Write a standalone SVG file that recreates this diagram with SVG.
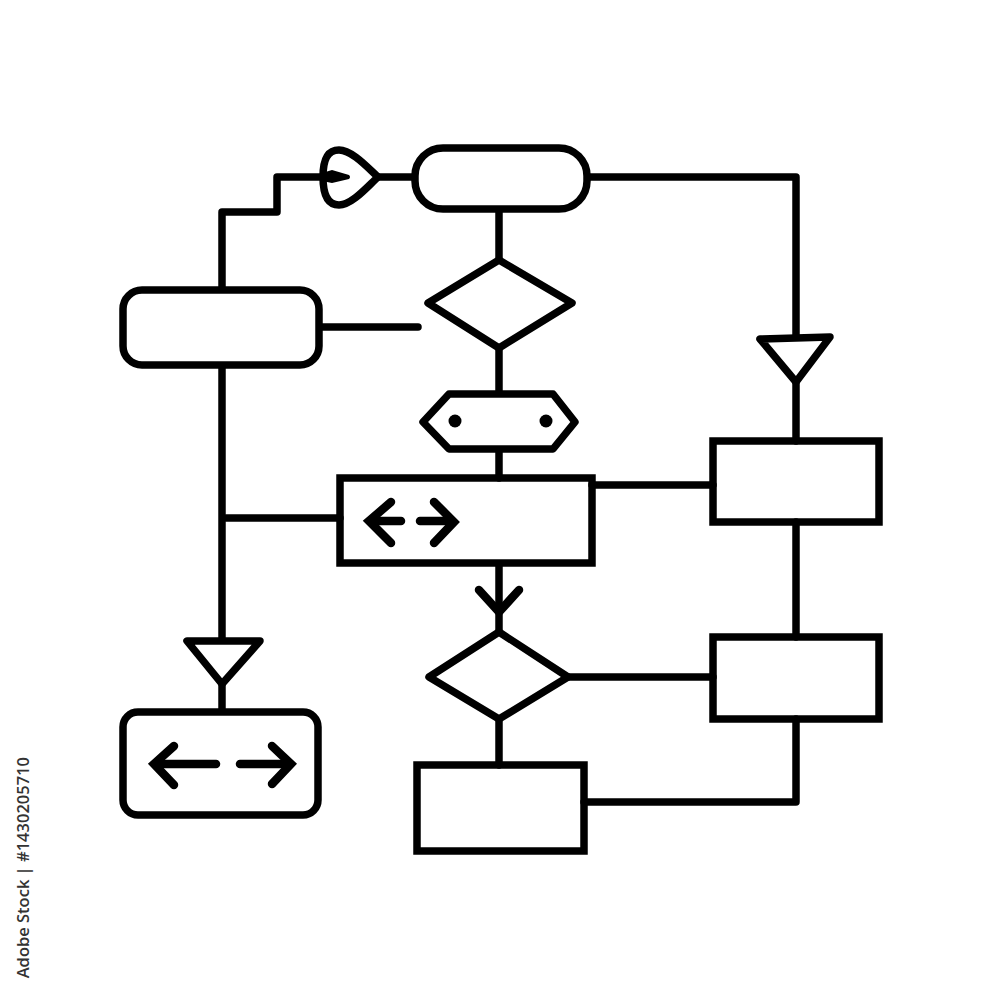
<svg xmlns="http://www.w3.org/2000/svg" width="1000" height="1000" viewBox="0 0 1000 1000">
<style>
.s{fill:none;stroke:#000;stroke-width:7.500;stroke-linejoin:round;stroke-linecap:round}
.w{fill:#fff;stroke:#000;stroke-width:7.500;stroke-linejoin:round;stroke-linecap:round}
.m{fill:none;stroke:#000;stroke-width:7.500;stroke-linejoin:miter;stroke-linecap:butt}
.a{fill:none;stroke:#000;stroke-width:8.500;stroke-linejoin:miter;stroke-linecap:round}
.l{font-family:"Open Sans","Liberation Sans",sans-serif;font-size:16.500px;font-weight:600;fill:#333;text-anchor:end}
</style>
<rect width="1000" height="1000" fill="#fff"/>
<g id="connectors">
<path class="s" d="M222 288V212H277V177H322"/>
<path class="s" d="M378 177H414"/>
<path class="s" d="M586 177H796V338"/>
<path class="s" d="M499 208V260"/>
<path class="s" d="M320 327H418"/>
<path class="s" d="M499 348V394"/>
<path class="s" d="M499 449V478"/>
<path class="s" d="M222 364V640"/>
<path class="s" d="M226 518H340"/>
<path class="s" d="M222 682V712"/>
<path class="s" d="M796 382V441"/>
<path class="s" d="M592 485H713"/>
<path class="s" d="M796 522V637"/>
<path class="s" d="M568 677H713"/>
<path class="s" d="M796 719V802H584"/>
<path class="s" d="M499 564V632"/>
<path class="a" d="M479 590L499 612L519 590"/>
<path class="s" d="M499 719V765"/>
</g>
<g id="heart"><path class="s" d="M378 177C368 168 352 150 339 150C327 150 323 160 323 177C323 194 327 205 339 205C352 205 368 186 378 177Z"/><path d="M322 173L332 170L349 175Q351 177 349 179L332 183L322 181Z"/></g>
<g id="terminator"><rect class="w" x="415" y="148" width="172" height="61" rx="28"/></g>
<g id="decision-top"><path class="w" d="M499 260L572 303L499 348L428 303Z"/></g>
<g id="process-left"><rect class="w" x="123" y="290" width="196" height="75" rx="19"/></g>
<g id="triangle-right"><path class="w" d="M760 339L830 337L796 382Z"/></g>
<g id="hexagon"><path class="w" d="M449 394H553L575 422L553 449H449L423 422Z"/><circle cx="455" cy="421" r="6.500"/><circle cx="546" cy="421" r="6.500"/></g>
<g id="process-center"><rect class="m" x="340" y="478" width="252" height="85"/><path class="a" d="M391 502L369 521L391 543"/><path class="a" d="M372 521H401"/><path class="a" d="M420 521H450"/><path class="a" d="M434 502L454 522L434 543"/></g>
<g id="box-right-top"><rect class="m" x="713" y="441" width="166" height="81"/></g>
<g id="box-right-bottom"><rect class="m" x="713" y="637" width="166" height="82"/></g>
<g id="decision-bottom"><path class="w" d="M499 632L568 677L499 719L429 677Z"/></g>
<g id="triangle-left"><path class="w" d="M187 641L260 641L222 684Z"/></g>
<g id="process-bottom-left"><rect class="w" x="123" y="712" width="195" height="103" rx="15"/><path class="a" d="M174 746L154 764L174 785"/><path class="a" d="M158 764H216"/><path class="a" d="M240 764H288"/><path class="a" d="M272 746L291 764L272 784"/></g>
<g id="box-bottom"><rect class="m" x="417" y="765" width="167" height="86"/></g>
<text class="l" transform="translate(29 757) rotate(-90)">Adobe Stock | #1430205710</text>
</svg>
